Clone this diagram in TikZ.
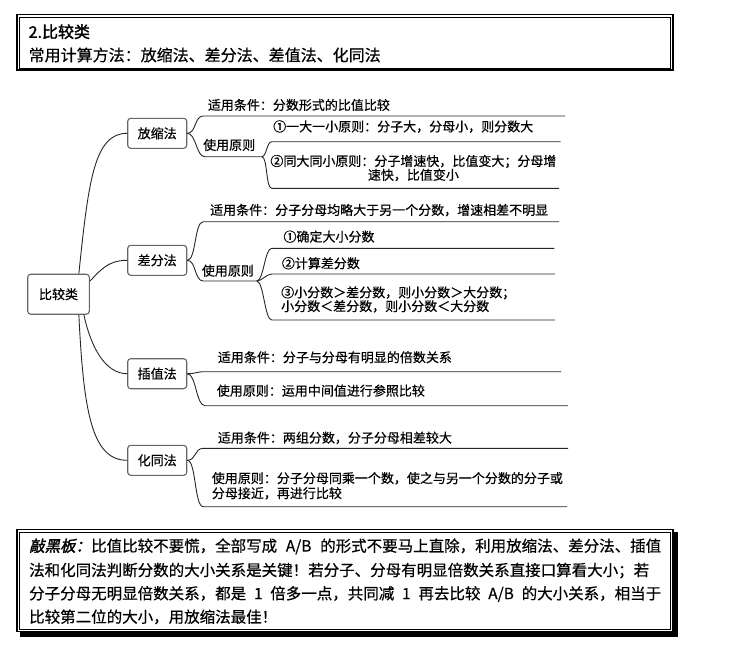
\documentclass[tikz,border=0pt]{standalone}
\usepackage{fontspec}
\setmainfont{Noto Sans CJK SC}[FakeBold=0.5]
\newfontfamily\hbfont{Noto Sans CJK SC}[FakeBold=1.8]
\newfontfamily\hbifont{Noto Sans CJK SC}[FakeBold=1.8,FakeSlant=0.2]
\XeTeXlinebreaklocale "zh"
\XeTeXlinebreakskip=0pt plus 1pt
\begin{document}
\begin{tikzpicture}[x=1pt,y=-1pt,
  conn/.style={draw=black!85, line width=0.9pt},
  topic/.style={draw=black!60, line width=1.1pt, rounded corners=3pt, fill=white,
    minimum width=59pt, minimum height=30pt, inner sep=0pt, font=\fontsize{13}{15}\selectfont},
  lbl/.style={anchor=base west, inner sep=0pt, font=\fontsize{13}{14}\selectfont},
  lbltwo/.style={inner sep=0pt, font=\fontsize{13}{13.8}\selectfont},
  bigtxt/.style={anchor=base west, inner sep=0pt, font=\fontsize{16}{18}\selectfont},
  notetxt/.style={anchor=base west, inner sep=0pt, font=\fontsize{15.5}{18}\selectfont}
]
\useasboundingbox (0,0) rectangle (742,657);

% ---------- top box ----------
\draw[line width=1.4pt] (17,14.5) rectangle (673,70);
\draw[line width=0.7pt] (19.5,17) rectangle (670.5,68);
\node[bigtxt] (title) at (28.5,37.8) {\hbfont 2.比较类};
\node[bigtxt] (methods) at (28.5,61.1) {常用计算方法：放缩法、差分法、差值法、化同法};

% ---------- mind map nodes ----------
\node[topic, minimum width=61.6pt, minimum height=40pt] (root) at (58.5,294.2) {比较类};
\node[topic] (fs) at (157.2,133.3) {放缩法};
\node[topic] (cf) at (157.2,260.3) {差分法};
\node[topic] (cz) at (157.2,373.7) {插值法};
\node[topic] (ht) at (157.2,460.3) {化同法};

% root connectors
\draw[conn] ([xshift=-11pt]root.north east) .. controls +(9.7,-94) and +(-32.7,0) .. (fs.west);
\draw[conn] ([yshift=-7.5pt]root.north east) .. controls +(10,-10) and +(-20,0) .. (cf.west);
\draw[conn] ([xshift=-6pt]root.south east) .. controls +(6.7,30.8) and +(-22.7,0) .. (cz.west);
\draw[conn] ([xshift=-11pt]root.south east) .. controls +(4.7,95.8) and +(-35.7,0) .. (ht.west);

% ---------- 放缩法 ----------
\coordinate (fsA) at (203.3,116);   \coordinate (fsAe) at (565,116);
\coordinate (fsB) at (205,156.7);   \coordinate (fsBe) at (261.7,156.7);
\coordinate (fsB1) at (271.7,141.7); \coordinate (fsB1e) at (560.7,141.7);
\coordinate (fsB2) at (271.7,188.3); \coordinate (fsB2e) at (559,188.3);
\draw[conn] (fs.east) .. controls +(9,0) and +(-9,0) .. (fsA) -- (fsAe);
\draw[conn] (fs.east) .. controls +(9,0) and +(-9,0) .. (fsB) -- (fsBe);
\draw[conn] (fsBe) .. controls +(5,0) and +(-5,0) .. (fsB1) -- (fsB1e);
\draw[conn] (fsBe) .. controls +(6,0) and +(-6,0) .. (fsB2) -- (fsB2e);
\node[lbl] (fsAt) at (207.7,109.9) {适用条件：分数形式的比值比较};
\node[lbl] (fsBt) at (203,149.9) {使用原则};
\node[lbl] (fsB1t) at (273,131.4) {①一大一小原则：分子大，分母小，则分数大};
\node[lbltwo, align=center] (fsB2t) at (413.4,168) {②同大同小原则：分子增速快，比值变大；分母增\\速快，比值变小};

% ---------- 差分法 ----------
\coordinate (cfA) at (203.3,221.7);  \coordinate (cfAe) at (559,221.7);
\coordinate (cfB) at (203.3,281);    \coordinate (cfBe) at (256.7,281);
\coordinate (cfB1) at (271.7,248.3); \coordinate (cfB1e) at (554.3,248.3);
\coordinate (cfB2) at (271.7,274);   \coordinate (cfB2e) at (555,274);
\coordinate (cfB3) at (271.7,320);   \coordinate (cfB3e) at (555,320);
\draw[conn] (cf.east) .. controls +(9,0) and +(-9,0) .. (cfA) -- (cfAe);
\draw[conn] (cf.east) .. controls +(9,0) and +(-9,0) .. (cfB) -- (cfBe);
\draw[conn] (cfBe) .. controls +(7,0) and +(-7,0) .. (cfB1) -- (cfB1e);
\draw[conn] (cfBe) .. controls +(5,0) and +(-5,0) .. (cfB2) -- (cfB2e);
\draw[conn] (cfBe) .. controls +(7,0) and +(-7,0) .. (cfB3) -- (cfB3e);
\node[lbl] (cfAt) at (210,214.9) {适用条件：分子分母均略大于另一个分数，增速相差不明显};
\node[lbl] (cfBt) at (201.7,275.6) {使用原则};
\node[lbl] (cfB1t) at (283.3,241.6) {①确定大小分数};
\node[lbl] (cfB2t) at (281.7,268.2) {②计算差分数};
\node[lbltwo, align=left, anchor=west] (cfB3t) at (281,299.4) {③小分数＞差分数，则小分数＞大分数；\\小分数＜差分数，则小分数＜大分数};

% ---------- 插值法 ----------
\coordinate (czA) at (205,371.7); \coordinate (czAe) at (561,371.7);
\coordinate (czB) at (205,405.7); \coordinate (czBe) at (568,405.7);
\draw[conn] (cz.east) .. controls +(9,0) and +(-9,0) .. (czA) -- (czAe);
\draw[conn] (cz.east) .. controls +(9,0) and +(-9,0) .. (czB) -- (czBe);
\node[lbl] (czAt) at (217.7,362.2) {适用条件：分子与分母有明显的倍数关系};
\node[lbl] (czBt) at (216.7,395.6) {使用原则：运用中间值进行参照比较};

% ---------- 化同法 ----------
\coordinate (htA) at (203.3,448.3); \coordinate (htAe) at (568,448.3);
\coordinate (htB) at (203.3,506.7); \coordinate (htBe) at (567,506.7);
\draw[conn] (ht.east) .. controls +(9,0) and +(-9,0) .. (htA) -- (htAe);
\draw[conn] (ht.east) .. controls +(9,0) and +(-9,0) .. (htB) -- (htBe);
\node[lbl] (htAt) at (217.7,442.6) {适用条件：两组分数，分子分母相差较大};
\node[lbltwo, align=left, anchor=west, font=\fontsize{13}{15}\selectfont] (htBt) at (211.7,485.8) {使用原则：分子分母同乘一个数，使之与另一个分数的分子或\\分母接近，再进行比较};

% ---------- bottom note box ----------
\fill[black] (20,532) rectangle (678,636.7);
\filldraw[fill=white, draw=black, line width=1.2pt] (17,529.8) rectangle (673,631.5);
\draw[line width=0.7pt] (19.5,532.3) rectangle (670.3,629.3);
\node[notetxt] (n1) at (29,551.6) {\makebox[632pt][s]{{\hbifont 敲黑板：}比值比较不要慌，全部写成 A/B 的形式不要马上直除，利用放缩法、差分法、插值}};
\node[notetxt] (n2) at (29,575.9) {\makebox[632pt][s]{法和化同法判断分数的大小关系是关键！若分子、分母有明显倍数关系直接口算看大小；若}};
\node[notetxt] (n3) at (29,599.2) {\makebox[632pt][s]{分子分母无明显倍数关系，都是 1 倍多一点，共同减 1 再去比较 A/B 的大小关系，相当于}};
\node[notetxt] (n4) at (29,622.6) {比较第二位的大小，用放缩法最佳！};
\end{tikzpicture}
\end{document}
